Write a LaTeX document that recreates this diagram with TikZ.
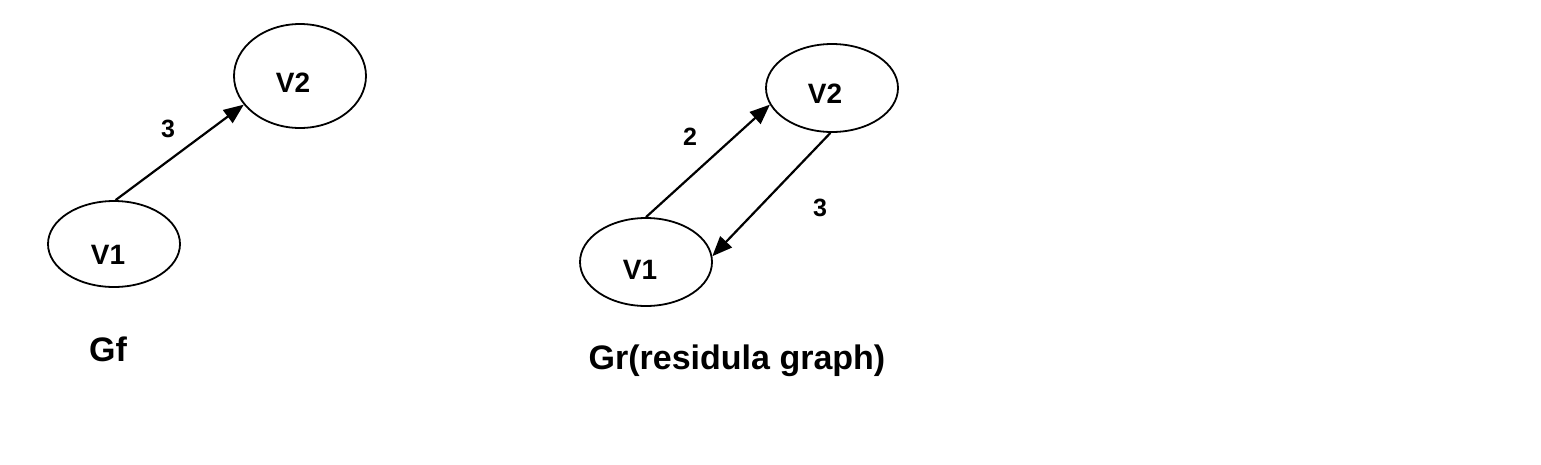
\documentclass[tikz,border=0pt]{standalone}
\usepackage{fontspec}
\setmainfont{Liberation Sans}
\usetikzlibrary{shapes.geometric,arrows.meta}
\begin{document}
\begin{tikzpicture}[x=1pt,y=-1pt,
  vert/.style={ellipse,draw,line width=1.8pt,inner sep=0pt},
  vtext/.style={font=\fontsize{28}{32}\selectfont\bfseries},
  arr/.style={line width=2.2pt,-{Triangle[length=20pt,width=16pt]}},
  lbl/.style={font=\fontsize{25}{30}\selectfont\bfseries},
  captext/.style={font=\fontsize{34}{40}\selectfont\bfseries}]
\useasboundingbox (0,0) rectangle (1541,464);
\node[vert,minimum width=132pt,minimum height=86pt] (a1) at (114,244) {};
\node[vert,minimum width=132pt,minimum height=104pt] (a2) at (300,76) {};
\node[vert,minimum width=132pt,minimum height=88pt] (b1) at (646,262) {};
\node[vert,minimum width=132pt,minimum height=88pt] (b2) at (832,88) {};
\node[vtext] (t1) at (108,255) {V1};
\node[vtext] (t2) at (293,83) {V2};
\node[vtext] (t3) at (640,270) {V1};
\node[vtext] (t4) at (825,94) {V2};
\draw[arr] (a1.88) -- (a2.207);
\draw[arr] (b1.90) -- (b2.195);
\draw[arr] (b2.268) -- (b1.5);
\node[lbl] (l1) at (168,129) {3};
\node[lbl] (l2) at (690,137) {2};
\node[lbl] (l3) at (820,208) {3};
\node[captext] (c1) at (108,349) {Gf};
\node[captext] (c2) at (737,361) {Gr(residula graph)};
\end{tikzpicture}
\end{document}
